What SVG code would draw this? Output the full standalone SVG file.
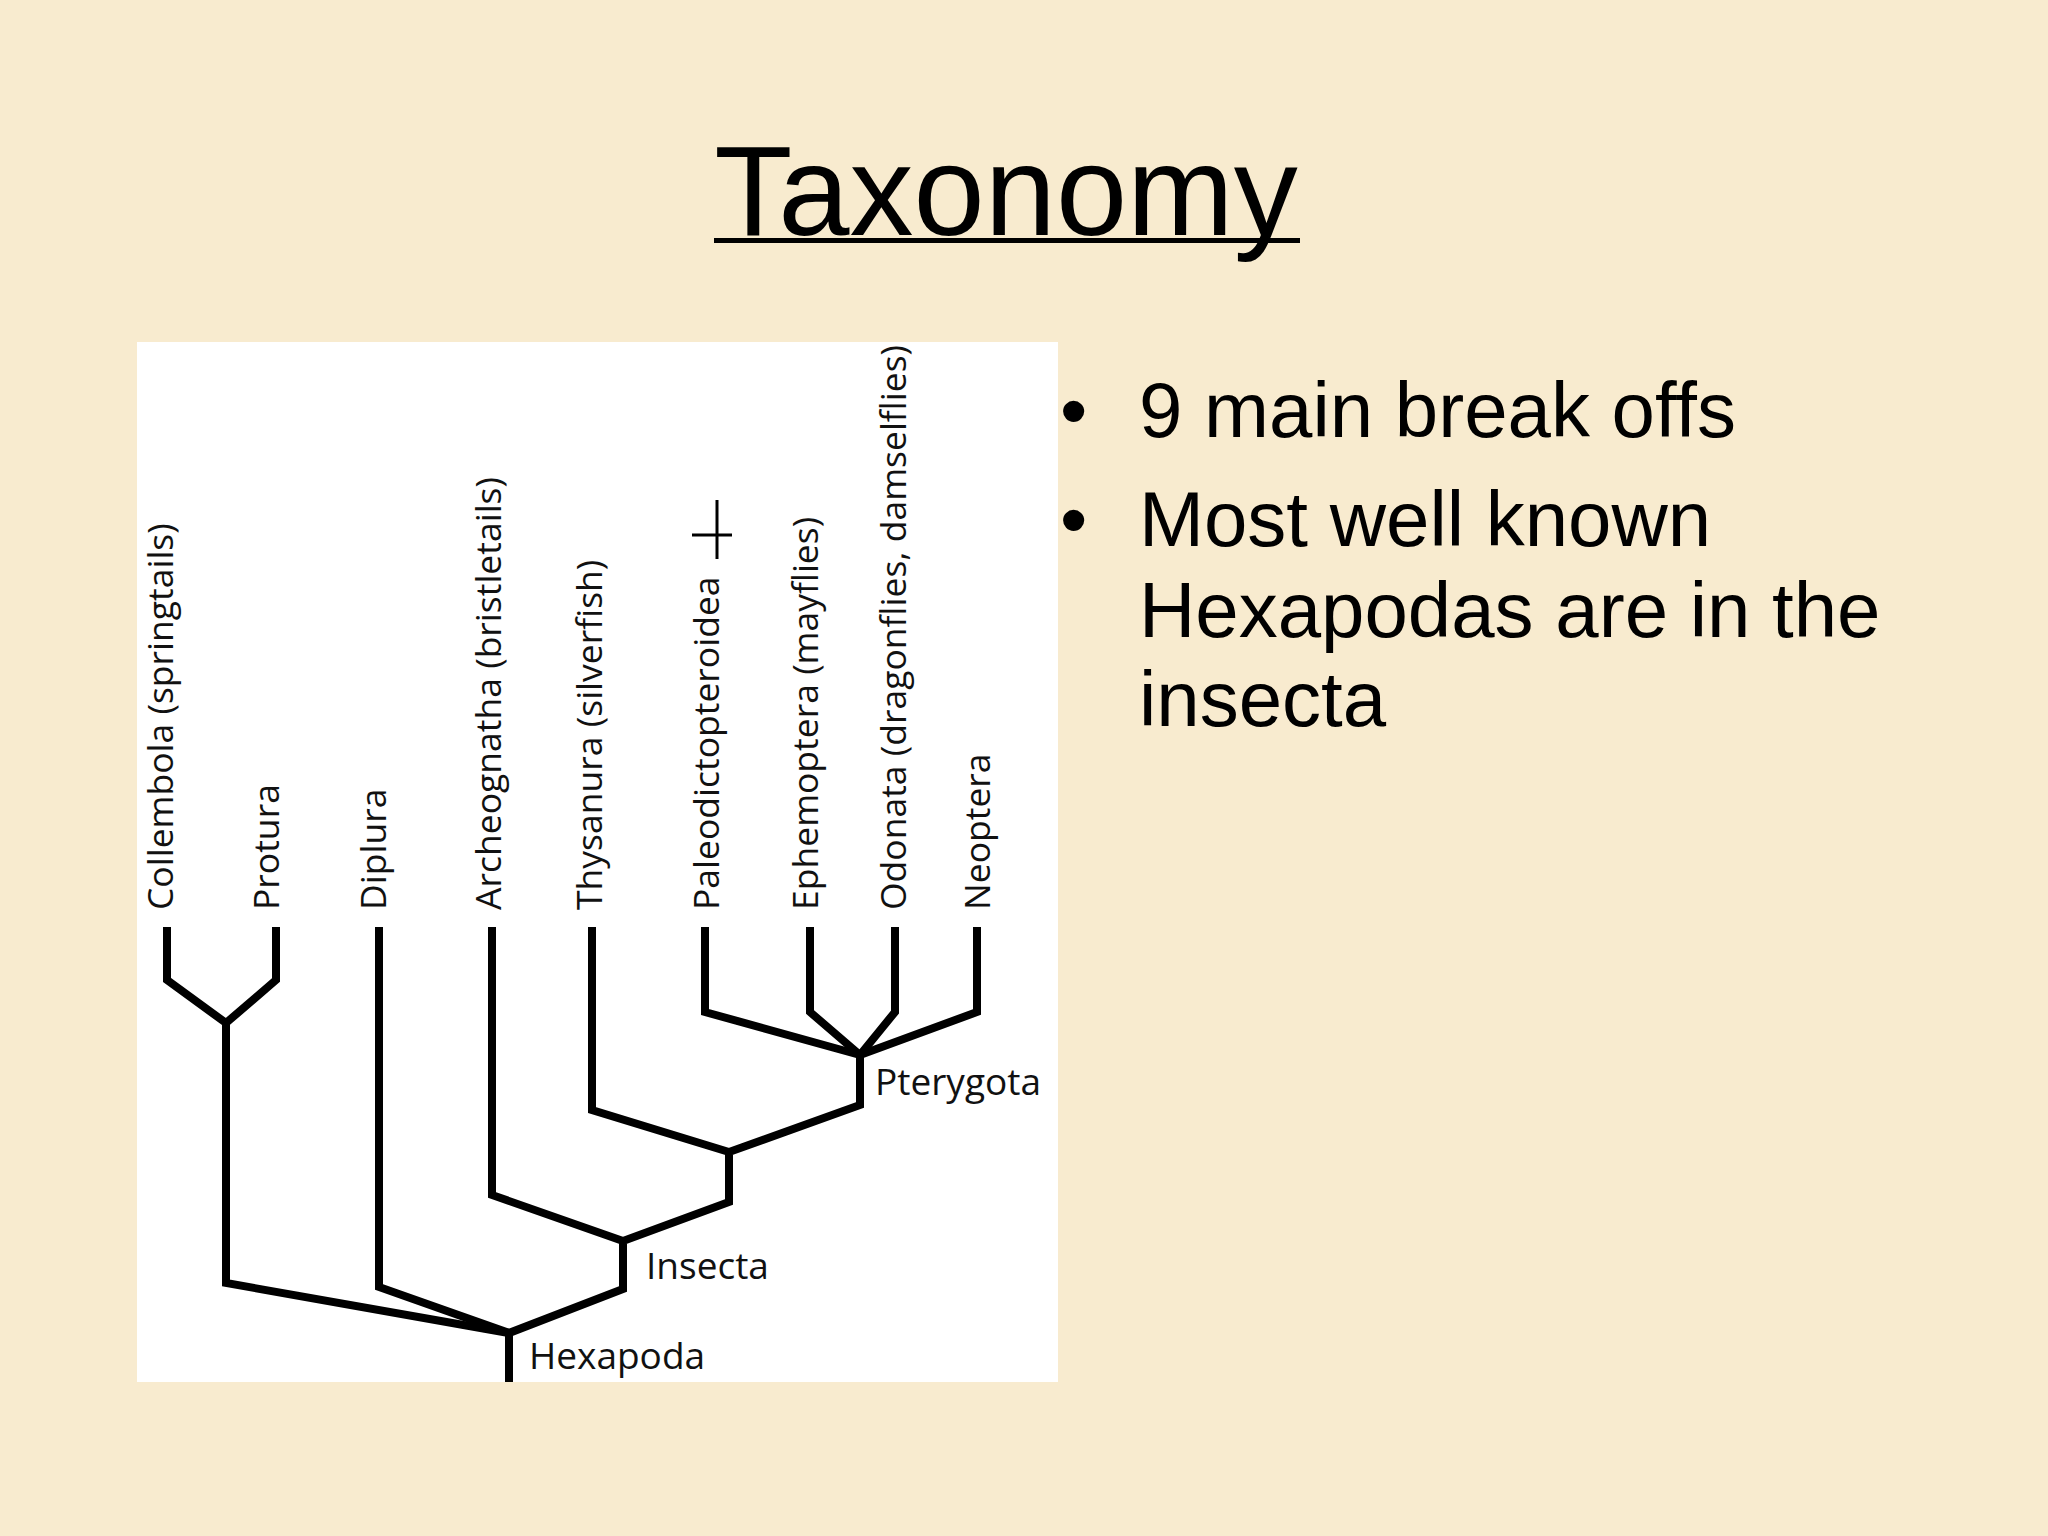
<svg xmlns="http://www.w3.org/2000/svg" width="2048" height="1536" viewBox="0 0 2048 1536">
<style>
.t{font-family:"Open Sans","Liberation Sans",sans-serif;font-size:35.5px;fill:#111}
.n{font-family:"Open Sans","Liberation Sans",sans-serif;font-size:37px;fill:#111}
.b{font-family:"Liberation Sans",Arial,sans-serif;font-size:78px;fill:#000}
.l{stroke:#000;stroke-width:8;fill:none;stroke-linejoin:miter;stroke-linecap:butt}
</style>
<rect width="2048" height="1536" fill="#f8ebcf"/>
<g id="title">
<text x="1006" y="235" text-anchor="middle" font-family="Liberation Sans,Arial,sans-serif" font-size="128" fill="#000">Taxonomy</text>
<rect x="714" y="238" width="586" height="5" fill="#000"/>
</g>
<rect x="137" y="342" width="921" height="1040" fill="#fff"/>
<g id="connectors" class="l">
<polyline points="167,927 167,980 226,1023 276,980 276,927"/>
<polyline points="226,1023 226,1283 509,1333 623,1289 623,1241 729,1202 729,1152 860,1105 860,1055"/>
<polyline points="379,927 379,1287 509,1333"/>
<line x1="509" y1="1333" x2="509" y2="1382"/>
<polyline points="492,927 492,1195 623,1241"/>
<polyline points="592,927 592,1110 729,1152"/>
<polyline points="705,927 705,1012 860,1055"/>
<polyline points="810,927 810,1012 860,1055"/>
<polyline points="895,927 895,1012 860,1055"/>
<polyline points="977,927 977,1012 860,1055"/>
<line x1="717" y1="500" x2="717" y2="559" stroke-width="3"/>
<line x1="692" y1="535" x2="732" y2="535" stroke-width="3"/>
</g>
<g id="leaves">
<text class="t" transform="translate(173,910) rotate(-90)">Collembola (springtails)</text>
<text class="t" transform="translate(279,910) rotate(-90)">Protura</text>
<text class="t" transform="translate(386,910) rotate(-90)">Diplura</text>
<text class="t" transform="translate(501,910) rotate(-90)">Archeognatha (bristletails)</text>
<text class="t" transform="translate(602,910) rotate(-90)">Thysanura (silverfish)</text>
<text class="t" transform="translate(719,910) rotate(-90)">Paleodictopteroidea</text>
<text class="t" transform="translate(818,910) rotate(-90)">Ephemoptera (mayflies)</text>
<text class="t" transform="translate(906,910) rotate(-90)">Odonata (dragonflies, damselflies)</text>
<text class="t" transform="translate(990,910) rotate(-90)">Neoptera</text>
</g>
<g id="nodes">
<text class="n" x="529" y="1369">Hexapoda</text>
<text class="n" x="646" y="1279">Insecta</text>
<text class="n" x="875" y="1095">Pterygota</text>
</g>
<g id="bullets">
<text class="b" x="1060" y="437">•</text>
<text class="b" x="1139" y="437">9 main break offs</text>
<text class="b" x="1060" y="546">•</text>
<text class="b" x="1139" y="546">Most well known</text>
<text class="b" x="1139" y="637">Hexapodas are in the</text>
<text class="b" x="1139" y="726">insecta</text>
</g>
</svg>
